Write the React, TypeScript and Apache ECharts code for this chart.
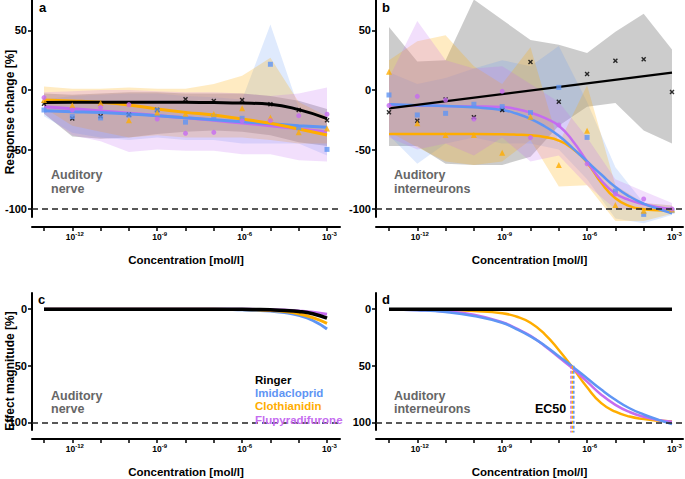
import React, { useEffect, useRef } from "react";
import * as echarts from "echarts";

// ---------- shared axes ----------
const decades = [-13, -12, -11, -10, -9, -8, -7, -6, -5, -4, -3];
const labelDecades = [-12, -9, -6, -3];
const fitXHalf = [-13, -12, -11, -10, -9, -8.5, -8, -7.5, -7, -6.5, -6, -5.5, -5, -4.5, -4, -3.5, -3];
const fitXTail = [-13, -12, -11, -10, -9, -8, -7, -6, -5.5, -5, -4.5, -4, -3.5, -3];
const lineEnds = [-13, -3];
const responseTicks = [-100, -50, 0, 50];
const effectTicks = [0, 50, 100];
const seriesNames = ["Ringer", "Imidacloprid", "Clothianidin", "Flupyradifurone"];

// ---------- panel a : auditory nerve, response change ----------
const aRingerPts = [-11.5, -24, -22, -20.7, -16.8, -7.8, -9.2, -8.4, -12, -16.8, -25.5];
const aImidaPts = [-16.8, -22.4, -23.5, -21, -17, -27, -22.4, -23.8, 21.6, -31.6, -49.9];
const aClothPts = [-8.4, -12.9, -11, -25.5, -19, -19.9, -20.2, -15.4, -23.2, -35.6, -32.4];
const aFlupyPts = [-6.4, -16.8, -14.6, -12.3, -24.4, -36.4, -35.6, -26, -25.8, -21.6, -20.4];
const aRingerFit = [-10.6, -10.4, -10.3, -10.3, -10.3, -10.4, -10.6, -11, -12, -16.5, -24];
const aImidaFit = [-17.4, -18.2, -19, -20.2, -21.6, -23.3, -25, -26.6, -28.3, -30, -31.4];
const aClothFit = [-8.4, -9.2, -10.4, -12.6, -16, -18.8, -21, -24.4, -28, -32.8, -37.8];
const aFlupyFit = [-14, -15.8, -17.6, -19.5, -21.4, -23.4, -25.5, -27.7, -30, -32.5, -35.2];
const aRingerHi = [-3, -4, -3, -2, -2, -3, -3, -3, -5, -9, -16];
const aRingerLo = [-20, -39, -41, -40, -37, -35, -34, -35, -38, -44, -47];
const aImidaHi = [-8, -5, -4, -3, -3, -5, -6, -8, 55, -15, -28];
const aImidaLo = [-22, -36, -40, -42, -40, -42, -42, -45, -45, -45, -55];
const aClothHi = [3, 1, 1, 2, 1, 1, 5, 12, 27, -10, -22];
const aClothLo = [-15, -30, -35, -40, -38, -40, -40, -40, -42, -45, -45];
const aFlupyHi = [-2, -1, 0, 0, -1, -2, -2, -3, -5, -3, 2];
const aFlupyLo = [-20, -38, -43, -52, -50, -51, -51, -54, -54, -59, -60];

// ---------- panel b : auditory interneurons, response change ----------
const bRingerPts = [-18.8, -25.8, -8, -23, -16.8, 23.5, -9.8, 13.4, 24.6, 25.8, -1.7];
const bImidaPts = [-4.2, -21, -19.6, -12, -14, -19, 2.2, -39.8, -84.9, -104.5, -101.5];
const bClothPts = [15.4, -28, -37.8, -37.8, -52.7, -22.4, -63, -34.2, -96.6, -101.4, -100.3];
const bFlupyPts = [-13, -5.3, -8.4, -24.4, -1.1, -40, -29.4, -62, -87.4, -91.6, -100];
const bRingerFit = [-15.4, 14.6];
const bImidaFit = [-12, -12.8, -13.4, -14.6, -16.8, -19.8, -24.2, -30.5, -38.5, -49, -60, -71, -81.5, -89.5, -95.5, -99.8, -103.6];
const bClothFit = [-37, -37, -37, -37, -37.2, -37.5, -38, -39.5, -42.5, -49.5, -61, -78, -91, -97.5, -100.2, -101, -101.5];
const bFlupyFit = [-12.5, -13, -13.5, -13.8, -14.3, -16, -19, -23.5, -30, -43, -60, -76, -87, -92.5, -96, -98.5, -100];
const bRingerHi = [53, 24, 25, 76, 59, 42, 38, 31, 49, 64, 34];
const bRingerLo = [-47, -47, -62, -63, -63, -56, -30, -14, -11, -34, -45];
const bImidaHi = [15, 5, 10, 18, 25, 20, 37, -10, -65, -95, -97];
const bImidaLo = [-38, -62, -45, -40, -45, -45, -50, -75, -108, -112, -105];
const bClothHi = [25, 41, 46, 20, 5, 36, -45, 4, -80, -95, -97];
const bClothLo = [-35, -48, -60, -63, -60, -42, -81, -80, -110, -110, -104];
const bFlupyHi = [10, 58, 25, 18, 20, 5, -10, -40, -75, -85, -95];
const bFlupyLo = [-40, -50, -45, -55, -40, -60, -55, -80, -100, -100, -103];

// ---------- panel c : auditory nerve, effect magnitude ----------
const cRingerFit = [0, 0, 0, 0, 0, 0, 0, 0.1, 0.3, 0.6, 1.1, 2, 4, 7.8];
const cImidaFit = [0, 0, 0, 0, 0, 0, 0.1, 0.6, 1, 1.7, 3, 5.5, 10, 17.5];
const cClothFit = [0, 0, 0, 0, 0, 0, 0.1, 0.3, 0.6, 1.1, 2, 4, 7.5, 12.5];
const cFlupyFit = [0, 0, 0, 0, 0, 0, 0, 0.1, 0.2, 0.4, 0.8, 1.5, 2.6, 4.5];

// ---------- panel d : auditory interneurons, effect magnitude ----------
const dRingerFit = [0, 0];
const dImidaFit = [0.2, 0.9, 2.5, 6, 12, 17.5, 24, 32, 41.5, 51, 61, 71, 80, 87.5, 93, 97.5, 101.5];
const dClothFit = [0.2, 0.4, 0.8, 1.6, 3.5, 6.5, 12, 22, 36, 52, 69, 83, 90.5, 94.8, 97, 98.4, 99.2];
const dFlupyFit = [0.2, 0.7, 2, 5, 11.5, 17, 23.5, 32.5, 42.5, 52.5, 64, 75.5, 84.5, 90.8, 95, 97.8, 99.5];
const ec50Flupy = -6.57;
const ec50Cloth = -6.52;
const ec50Imida = -6.47;
const ec50Span = [50, 109];

// ---------- styling ----------
const FONT = '"Liberation Sans", Arial, Helvetica, sans-serif';
const BLACK = "#000000";
const BLUE = "#5f95f4";
const ORANGE = "#ffad00";
const PURPLE = "#c56cf0";
const GRAY_BAND = "rgba(0,0,0,0.2)";
const BLUE_BAND = "rgba(95,149,244,0.2)";
const ORANGE_BAND = "rgba(255,173,0,0.24)";
const PURPLE_BAND = "rgba(197,108,240,0.22)";
const X_SYMBOL = "path://M0,2L2,0L5,3L8,0L10,2L7,5L10,8L8,10L5,7L2,10L0,8L3,5Z";

function band(idx: number, lo: number[], hi: number[], color: string) {
  return {
    type: "custom",
    xAxisIndex: idx,
    yAxisIndex: idx,
    silent: true,
    z: 1,
    data: [[decades[0], hi[0]]],
    renderItem: (_p: any, api: any) => {
      const pts: number[][] = [];
      for (let i = 0; i < decades.length; i++) pts.push(api.coord([decades[i], hi[i]]));
      for (let i = decades.length - 1; i >= 0; i--) pts.push(api.coord([decades[i], lo[i]]));
      return { type: "polygon", shape: { points: pts }, style: { fill: color } };
    },
  };
}

function fit(idx: number, xs: number[], ys: number[], color: string, width: number, name: string, z = 2, extra: any = {}) {
  return {
    type: "line",
    name,
    xAxisIndex: idx,
    yAxisIndex: idx,
    data: xs.map((x, i) => [x, ys[i]]),
    showSymbol: false,
    symbol: "none",
    smooth: 0.5,
    lineStyle: { color, width },
    silent: true,
    z,
    ...extra,
  };
}

function pts(idx: number, ys: number[], symbol: string, color: string, size: number, name: string) {
  return {
    type: "scatter",
    name,
    xAxisIndex: idx,
    yAxisIndex: idx,
    data: decades.map((x, i) => [x, ys[i]]),
    symbol,
    symbolSize: size,
    itemStyle: { color },
    silent: true,
    z: 4,
  };
}

function refLine(value: number) {
  return {
    silent: true,
    symbol: ["none", "none"],
    label: { show: false },
    lineStyle: { type: [6, 4], color: "#222", width: 1.5 },
    data: [{ yAxis: value }],
  };
}

function ecLine(x: number, color: string, name: string) {
  return {
    type: "line",
    name,
    xAxisIndex: 3,
    yAxisIndex: 3,
    data: ec50Span.map((y) => [x, y]),
    showSymbol: false,
    symbol: "none",
    clip: false,
    lineStyle: { color, width: 1.5, type: [3, 2] },
    silent: true,
    z: 3,
  };
}

function xAx(idx: number, min: number, max: number, offset: number) {
  return {
    type: "value",
    gridIndex: idx,
    min,
    max,
    offset,
    axisLine: { show: true, onZero: false, lineStyle: { color: BLACK, width: 2 } },
    axisTick: { show: true, customValues: decades, length: 4, lineStyle: { color: BLACK, width: 1.5 } },
    axisLabel: {
      customValues: labelDecades,
      margin: 4,
      padding: [0, 0, 0, 5],
      formatter: (v: number) => `{b|10}{s|${v}}`,
      rich: {
        b: { fontSize: 8.5, fontWeight: "bold", fontFamily: FONT, color: BLACK, lineHeight: 12 },
        s: { fontSize: 6, fontWeight: "bold", fontFamily: FONT, color: BLACK, lineHeight: 5, verticalAlign: "top" },
      },
    },
    splitLine: { show: false },
    name: "Concentration [mol/l]",
    nameLocation: "middle",
    nameGap: 27,
    nameTextStyle: { fontWeight: "bold", fontSize: 11.5, fontFamily: FONT, color: BLACK },
  };
}

function yAx(idx: number, min: number, max: number, ticks: number[], inverse: boolean) {
  return {
    type: "value",
    gridIndex: idx,
    min,
    max,
    inverse,
    axisLine: { show: true, onZero: false, lineStyle: { color: BLACK, width: 2 } },
    axisTick: { show: true, customValues: ticks, length: 4, lineStyle: { color: BLACK, width: 1.5 } },
    axisLabel: { customValues: ticks, margin: 5, color: BLACK, fontWeight: "bold", fontSize: 11, fontFamily: FONT },
    splitLine: { show: false },
  };
}

function txt(text: string, x: number, y: number, color: string, size: number, extra: any = {}) {
  return {
    type: "text",
    x,
    y,
    silent: true,
    z: 10,
    ...extra,
    style: {
      text,
      fill: color,
      fontSize: size,
      fontWeight: "bold",
      fontFamily: FONT,
      align: extra.align || "left",
      verticalAlign: "middle",
      textAlign: extra.align || "left",
      textVerticalAlign: "middle",
    },
  };
}

export default function App() {
  const ref = useRef<HTMLDivElement>(null);

  useEffect(() => {
    if (!ref.current) return;
    const chart = echarts.init(ref.current, undefined, { renderer: "svg" });

    const series: any[] = [
      band(0, aRingerLo, aRingerHi, GRAY_BAND),
      band(0, aImidaLo, aImidaHi, BLUE_BAND),
      band(0, aClothLo, aClothHi, ORANGE_BAND),
      band(0, aFlupyLo, aFlupyHi, PURPLE_BAND),
      band(1, bRingerLo, bRingerHi, GRAY_BAND),
      band(1, bImidaLo, bImidaHi, BLUE_BAND),
      band(1, bClothLo, bClothHi, ORANGE_BAND),
      band(1, bFlupyLo, bFlupyHi, PURPLE_BAND),
      fit(0, decades, aFlupyFit, PURPLE, 3, seriesNames[3], 2, { markLine: refLine(-100) }),
      fit(0, decades, aImidaFit, BLUE, 3, seriesNames[1]),
      fit(0, decades, aClothFit, ORANGE, 3, seriesNames[2]),
      fit(0, decades, aRingerFit, BLACK, 3, seriesNames[0]),
      fit(1, fitXHalf, bClothFit, ORANGE, 2.5, seriesNames[2], 2, { markLine: refLine(-100) }),
      fit(1, fitXHalf, bFlupyFit, PURPLE, 2.5, seriesNames[3]),
      fit(1, fitXHalf, bImidaFit, BLUE, 2.5, seriesNames[1]),
      fit(1, lineEnds, bRingerFit, BLACK, 2.2, seriesNames[0]),
      pts(0, aRingerPts, X_SYMBOL, BLACK, 5, seriesNames[0]),
      pts(0, aImidaPts, "rect", BLUE, 5, seriesNames[1]),
      pts(0, aClothPts, "triangle", ORANGE, 6, seriesNames[2]),
      pts(0, aFlupyPts, "circle", PURPLE, 5, seriesNames[3]),
      pts(1, bRingerPts, X_SYMBOL, BLACK, 5, seriesNames[0]),
      pts(1, bImidaPts, "rect", BLUE, 5, seriesNames[1]),
      pts(1, bClothPts, "triangle", ORANGE, 6, seriesNames[2]),
      pts(1, bFlupyPts, "circle", PURPLE, 5, seriesNames[3]),
      fit(2, fitXTail, cImidaFit, BLUE, 3, seriesNames[1], 2, { markLine: refLine(100) }),
      fit(2, fitXTail, cClothFit, ORANGE, 3, seriesNames[2]),
      fit(2, fitXTail, cFlupyFit, PURPLE, 3, seriesNames[3]),
      fit(2, fitXTail, cRingerFit, BLACK, 3.5, seriesNames[0]),
      fit(3, fitXHalf, dClothFit, ORANGE, 2.5, seriesNames[2], 2, { markLine: refLine(100) }),
      fit(3, fitXHalf, dFlupyFit, PURPLE, 2.5, seriesNames[3]),
      fit(3, fitXHalf, dImidaFit, BLUE, 2.5, seriesNames[1]),
      fit(3, lineEnds, dRingerFit, BLACK, 3.5, seriesNames[0]),
      ecLine(ec50Flupy, PURPLE, "EC50 " + seriesNames[3]),
      ecLine(ec50Cloth, ORANGE, "EC50 " + seriesNames[2]),
      ecLine(ec50Imida, BLUE, "EC50 " + seriesNames[1]),
    ];

    const GRAY_TEXT = "#666666";
    const graphic: any[] = [
      txt("a", 39, 7.5, BLACK, 13),
      txt("b", 382, 7.5, BLACK, 13),
      txt("c", 38, 299.5, BLACK, 13),
      txt("d", 382, 299.5, BLACK, 13),
      txt("Auditory", 51, 175, GRAY_TEXT, 12.5),
      txt("nerve", 51, 189, GRAY_TEXT, 12.5),
      txt("Auditory", 394, 175, GRAY_TEXT, 12.5),
      txt("interneurons", 394, 189, GRAY_TEXT, 12.5),
      txt("Auditory", 51, 395.5, GRAY_TEXT, 12.5),
      txt("nerve", 51, 409, GRAY_TEXT, 12.5),
      txt("Auditory", 394, 395.5, GRAY_TEXT, 12.5),
      txt("interneurons", 394, 409, GRAY_TEXT, 12.5),
      txt(seriesNames[0], 255, 379.5, BLACK, 11.5),
      txt(seriesNames[1], 255, 392.5, BLUE, 11.5),
      txt(seriesNames[2], 255, 406, ORANGE, 11.5),
      txt(seriesNames[3], 255, 419.5, PURPLE, 11.5),
      txt("EC50", 535, 408.5, BLACK, 12.5),
      txt("Response change [%]", 10, 112, BLACK, 12, { rotation: Math.PI / 2, align: "center" }),
      txt("Effect magnitude [%]", 10, 371, BLACK, 12, { rotation: Math.PI / 2, align: "center" }),
    ];

    chart.setOption({
      animation: false,
      backgroundColor: "#ffffff",
      textStyle: { fontFamily: FONT },
      grid: [
        { left: 32, top: 0, width: 308, height: 217 },
        { left: 376, top: 0, width: 307, height: 217 },
        { left: 32, top: 293, width: 308, height: 144 },
        { left: 376, top: 293, width: 307, height: 144 },
      ],
      xAxis: [
        xAx(0, -13.424, -2.541, 10),
        xAx(1, -13.459, -2.611, 10),
        xAx(2, -13.424, -2.541, 9),
        xAx(3, -13.459, -2.611, 9),
      ],
      yAxis: [
        yAx(0, -106.7, 75.6, responseTicks, false),
        yAx(1, -106.7, 75.6, responseTicks, false),
        yAx(2, -14.3, 106.7, effectTicks, true),
        yAx(3, -14.3, 106.7, effectTicks, true),
      ],
      series,
      graphic,
    });

    return () => chart.dispose();
  }, []);

  return (
    <div
      ref={ref}
      style={{ position: "fixed", left: 0, top: 0, width: 685, height: 479, background: "#fff" }}
    />
  );
}
